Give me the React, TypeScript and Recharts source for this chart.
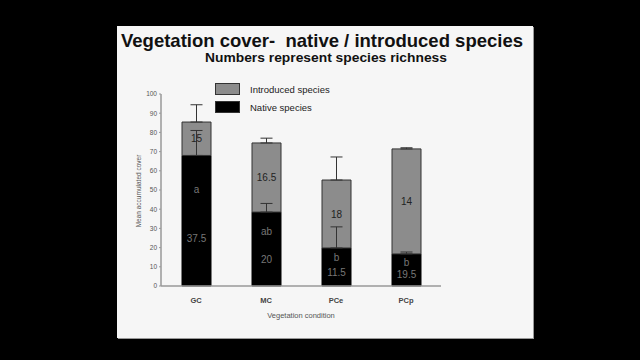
import { BarChart, Bar, XAxis, YAxis, ErrorBar, LabelList, Legend } from "recharts"

const categories = ["GC", "MC", "PCe", "PCp"]
const nativeCover = [68, 38.5, 19.8, 16.7]
const introducedCover = [17.4, 36, 35.4, 54.7]
const nativeError = [13, 4.5, 11, 1]
const totalError = [9, 2.5, 12, 0.6]
const nativeRichness = ["37.5", "20", "11.5", "19.5"]
const introducedRichness = ["15", "16.5", "18", "14"]
const groupLetters = ["a", "ab", "b", "b"]
const yTicks = [0, 10, 20, 30, 40, 50, 60, 70, 80, 90, 100]

const data = categories.map((name, i) => ({
  name,
  native: nativeCover[i],
  introduced: introducedCover[i],
  nativeErr: [0, nativeError[i]],
  totalErr: [0, totalError[i]],
  nativeRich: nativeRichness[i],
  introRich: introducedRichness[i],
  letter: groupLetters[i],
}))

const font = "'Liberation Sans', Arial, sans-serif"

// labels inside the black segment, placed at a fraction of its height
const insideNative = (frac: number) => (props: any) => {
  const { x, y, width, height, value } = props
  return (
    <text
      x={x + width / 2}
      y={y + height * frac}
      textAnchor="middle"
      dominantBaseline="central"
      fontSize={10}
      fill="#777"
    >
      {value}
    </text>
  )
}

const legendContent = (props: any) => {
  const items = [...(props.payload || [])].sort((a: any) =>
    a.value === "Introduced species" ? -1 : 1
  )
  return (
    <div style={{ fontFamily: font, fontSize: 9.5, color: "#222" }}>
      {items.map((it: any) => (
        <div key={it.value} style={{ display: "flex", alignItems: "center", height: 18 }}>
          <div
            style={{
              width: 23,
              height: 10,
              background: it.color,
              border: "1px solid #333",
              marginRight: 10,
            }}
          />
          <span>{it.value}</span>
        </div>
      ))}
    </div>
  )
}

export default function App() {
  return (
    <div
      style={{
        position: "absolute",
        left: 0,
        top: 0,
        width: 640,
        height: 360,
        background: "#000",
        overflow: "hidden",
      }}
    >
      <div
        style={{
          position: "absolute",
          left: 117,
          top: 26,
          width: 416,
          height: 312,
          background: "#f6f6f6",
          boxShadow: "1px 1px 0 #999",
        }}
      >
        <BarChart
          width={416}
          height={312}
          data={data}
          margin={{ top: 68, right: 92, bottom: 22, left: 24 }}
          style={{ fontFamily: font }}
        >
          <XAxis
            dataKey="name"
            axisLine={{ stroke: "#999", strokeWidth: 1.5 }}
            tickLine={false}
            tick={{ fontSize: 7.5, fontWeight: "bold", fill: "#444" }}
            tickMargin={6}
            height={30}
          />
          <YAxis
            domain={[0, 100]}
            ticks={yTicks}
            width={20}
            axisLine={{ stroke: "#999", strokeWidth: 1.5 }}
            tickLine={{ stroke: "#999" }}
            tickSize={2}
            tick={{ fontSize: 6.5, fill: "#555" }}
            tickMargin={2}
          />
          <Legend
            layout="vertical"
            align="center"
            verticalAlign="middle"
            content={legendContent}
            wrapperStyle={{ left: 98, top: 54, width: 160 }}
          />
          <Bar
            dataKey="native"
            name="Native species"
            stackId="a"
            fill="#000"
            stroke="#000"
            barSize={29}
            isAnimationActive={false}
          >
            <ErrorBar dataKey="nativeErr" width={6} stroke="#333" strokeWidth={1} />
            <LabelList dataKey="letter" content={insideNative(0.26)} />
            <LabelList dataKey="nativeRich" content={insideNative(0.64)} />
          </Bar>
          <Bar
            dataKey="introduced"
            name="Introduced species"
            stackId="a"
            fill="#8c8c8c"
            stroke="#333"
            barSize={29}
            isAnimationActive={false}
          >
            <ErrorBar dataKey="totalErr" width={6} stroke="#333" strokeWidth={1} />
            <LabelList dataKey="introRich" position="center" fontSize={10} fill="#222" />
          </Bar>
        </BarChart>
      </div>
      <svg
        width={640}
        height={360}
        style={{ position: "absolute", left: 0, top: 0, pointerEvents: "none", fontFamily: font }}
      >
        <text
          x={322}
          y={47}
          textAnchor="middle"
          fontSize={18.5}
          fontWeight="bold"
          fill="#111"
          textLength={402}
          lengthAdjust="spacingAndGlyphs"
          style={{ whiteSpace: "pre" }}
        >
          {"Vegetation cover-  native / introduced species"}
        </text>
        <text
          x={326}
          y={62}
          textAnchor="middle"
          fontSize={13.5}
          fontWeight="bold"
          fill="#111"
          textLength={242}
          lengthAdjust="spacingAndGlyphs"
        >
          Numbers represent species richness
        </text>
        <text
          x={138}
          y={191}
          transform="rotate(-90 138 191)"
          textAnchor="middle"
          dominantBaseline="central"
          fontSize={6.5}
          fill="#555"
        >
          Mean accumulated cover
        </text>
        <text x={301} y={318} textAnchor="middle" fontSize={7.5} fill="#555">
          Vegetation condition
        </text>
      </svg>
    </div>
  )
}
